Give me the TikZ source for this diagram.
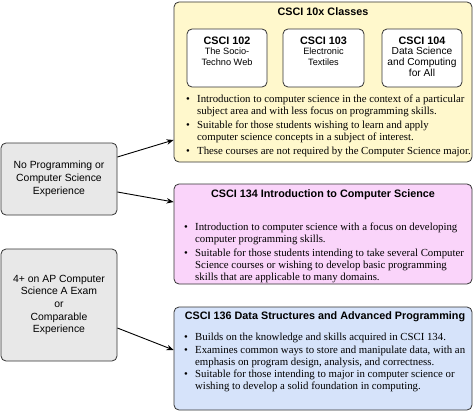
\documentclass[tikz,border=0pt]{standalone}
\usepackage{fontspec}
\setmainfont{Liberation Serif}
\setsansfont{Liberation Sans}
\usetikzlibrary{arrows.meta}
\definecolor{yelfill}{HTML}{FFF8CC}
\definecolor{pinkfill}{HTML}{FAD4FA}
\definecolor{bluefill}{HTML}{D6E3FA}
\definecolor{grayfill}{HTML}{E8E8E8}
\definecolor{edge}{HTML}{333333}
\newcommand\bul{\makebox[11pt][l]{\textbullet}}
\newcommand\ind{\hspace*{11pt}}
\tikzset{
  x=1pt, y=-1pt,
  box/.style={draw=edge, rounded corners=5pt, line width=0.8pt, inner sep=0pt},
  expbox/.style={box, fill=grayfill, minimum width=116pt, align=center,
    font=\sffamily\fontsize{10.4}{12.7}\selectfont},
  coursebox/.style={box, minimum width=298pt},
  subbox/.style={box, fill=white, minimum height=58pt},
  subtext/.style={inner sep=0pt, align=center, font=\sffamily\fontsize{9.2}{10.5}\selectfont},
  title/.style={inner sep=0pt, font=\sffamily\bfseries\fontsize{10.8}{12}\selectfont},
  bullets/.style={inner sep=0pt, anchor=north west, align=left,
    font=\rmfamily\fontsize{10.8}{11.8}\selectfont},
  arr/.style={draw=black, line width=0.9pt, -{Stealth[length=7pt,width=5.5pt]}},
}
\begin{document}
\begin{tikzpicture}
\useasboundingbox (0,0) rectangle (474,412);

% left boxes
\node[expbox, minimum height=72pt] (e1) at (59,179)
  {No Programming or\\Computer Science\\Experience};
\node[expbox, minimum height=112pt] (e2) at (59,305)
  {4+ on AP Computer\\Science A Exam\\or\\Comparable\\Experience};

% course boxes
\node[coursebox, fill=yelfill, minimum height=160pt] (c10x) at (323,82) {};
\node[coursebox, fill=pinkfill, minimum height=100pt] (c134) at (323,234) {};
\node[coursebox, fill=bluefill, minimum height=103pt] (c136) at (323,358.5) {};

% titles
\node[title] (t10x) at (323,12) {CSCI 10x Classes};
\node[title] (t134) at (323,195) {CSCI 134 Introduction to Computer Science};
\node[title] (t136) at (325,317) {CSCI 136 Data Structures and Advanced Programming};

% sub boxes
\node[subbox, minimum width=80pt] (b102) at (227,58) {};
\node[subbox, minimum width=81pt] (b103) at (323.5,58) {};
\node[subbox, minimum width=80pt] (b104) at (422,58) {};
\node[subtext, anchor=north] (s102) at ([yshift=-8pt]b102.north)
  {{\bfseries\fontsize{10.8}{12}\selectfont CSCI 102}\\The Socio-\\Techno Web};
\node[subtext, anchor=north] (s103) at ([yshift=-8pt]b103.north)
  {{\bfseries\fontsize{10.8}{12}\selectfont CSCI 103}\\Electronic\\Textiles};
\node[subtext, anchor=north, font=\sffamily\fontsize{10.2}{10.6}\selectfont] (s104) at ([yshift=-8pt]b104.north)
  {{\bfseries\fontsize{10.8}{12}\selectfont CSCI 104}\\Data Science\\and Computing\\for All};

% bullet lists
\node[bullets] (l10x) at (186,95)
  {\bul Introduction to computer science in the context of a particular\\
   \ind subject area and with less focus on programming skills.\\[2.2pt]
   \bul Suitable for those students wishing to learn and apply\\
   \ind computer science concepts in a subject of interest.\\[2.2pt]
   \bul These courses are not required by the Computer Science major.};
\node[bullets] (l134) at (184,223)
  {\bul Introduction to computer science with a focus on developing\\
   \ind computer programming skills.\\[2.2pt]
   \bul Suitable for those students intending to take several Computer\\
   \ind Science courses or wishing to develop basic programming\\
   \ind skills that are applicable to many domains.};
\node[bullets] (l136) at (184,333)
  {\bul Builds on the knowledge and skills acquired in CSCI 134.\\[0.8pt]
   \bul Examines common ways to store and manipulate data, with an\\
   \ind emphasis on program design, analysis, and correctness.\\[0.8pt]
   \bul Suitable for those intending to major in computer science or\\
   \ind wishing to develop a solid foundation in computing.};

% arrows
\draw[arr] ([yshift=22pt]e1.east) -- ([yshift=-58pt]c10x.west);
\draw[arr] ([yshift=-13pt]e1.east) -- ([yshift=32pt]c134.west);
\draw[arr] ([yshift=-23pt]e2.east) -- ([yshift=8.5pt]c136.west);
\end{tikzpicture}
\end{document}
